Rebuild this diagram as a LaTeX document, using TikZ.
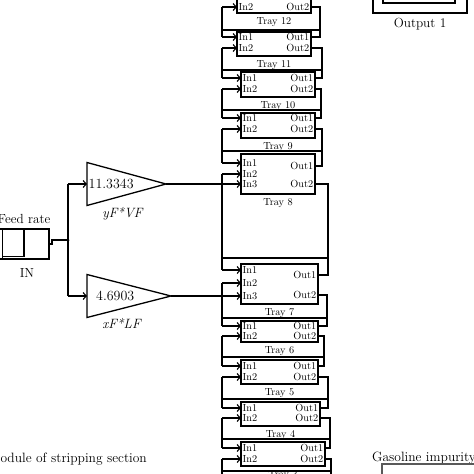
\documentclass[tikz,border=0pt]{standalone}
\usetikzlibrary{arrows.meta}
\newcommand\mktray[8]{%
  \node[traybox,minimum width={(#3-#2)*1pt},minimum height={(#5-#4)*1pt}] (#1) at ({(#2+#3)/2},{(#4+#5)/2}) {};
  \coordinate (#1-i1) at (#2,#6);
  \coordinate (#1-i2) at (#2,#7);
  \coordinate (#1-o1) at (#3,#6);
  \coordinate (#1-o2) at (#3,#7);
  \node[port,anchor=west] (#1-l1) at ([xshift=1.5pt]#1-i1) {In1};
  \node[port,anchor=west] (#1-l2) at ([xshift=1.5pt]#1-i2) {In2};
  \node[port,anchor=east] (#1-r1) at ([xshift=-1.5pt]#1-o1) {Out1};
  \node[port,anchor=east] (#1-r2) at ([xshift=-1.5pt]#1-o2) {Out2};
  \node[tlab] (#1-lab) at ({(#2+#3)/2},{#5+11}) {#8};
}
\newcommand\mkgap[4]{%
  \coordinate (rr) at (#4,0);
  \coordinate (hy) at (0,#3);
  \draw[arr] (rail |- #1-i2) -- (#1-i2);
  \draw[arr] (rail |- #2-i1) -- (#2-i1);
  \draw[wire] (rail |- #1-i2) -- (rail |- #2-i1);
  \draw[wire] (#1-o2) -- (rr |- #1-o2) -- (rr |- #2-o1) -- (#2-o1);
  \draw[wire] (rail |- hy) -- (rr |- hy);
}
\begin{document}
\begin{tikzpicture}[x=1pt,y=-1pt,
  wire/.style={line width=1.35pt},
  arr/.style={wire,-{Straight Barb[length=3.2pt,width=7pt,line width=1.1pt]}},
  traybox/.style={draw,line width=1.35pt,inner sep=0pt,outer sep=0pt},
  boxline/.style={line width=1.3pt},
  port/.style={inner sep=0pt,font=\fontsize{10.3}{12}\selectfont},
  tlab/.style={inner sep=0pt,anchor=base,font=\fontsize{10.3}{12}\selectfont},
  big/.style={inner sep=0pt,font=\fontsize{13.5}{16}\selectfont}]
\useasboundingbox (0,0) rectangle (474,474);
\clip (0,0) rectangle (474,474);
\coordinate (rail) at (222,0);

% trays
\mktray{t12}{237}{311}{-20}{13}{-9}{7}{Tray 12}
\mktray{t11}{237}{311}{32}{56}{37}{48}{Tray 11}
\mktray{t10}{241}{315}{72}{97}{78}{89}{Tray 10}
\mktray{t9}{241}{315}{113}{138}{118}{129}{Tray 9}
\mktray{t6}{241}{318}{321}{342}{326}{336}{Tray 6}
\mktray{t5}{241}{318}{360}{384}{366}{377}{Tray 5}
\mktray{t4}{241}{320}{402}{426}{408}{418}{Tray 4}
\mktray{t3}{241}{325}{442}{466}{448}{459}{Tray 3}

% tray 8
\node[traybox,minimum width=74pt,minimum height=40pt] (t8) at (278,174) {};
\coordinate (t8-i1) at (241,163);
\coordinate (t8-i2) at (241,174);
\coordinate (t8-i3) at (241,184);
\coordinate (t8-o1) at (315,166);
\coordinate (t8-o2) at (315,184);
\node[port,anchor=west] (t8-l1) at ([xshift=1.5pt]t8-i1) {In1};
\node[port,anchor=west] (t8-l2) at ([xshift=1.5pt]t8-i2) {In2};
\node[port,anchor=west] (t8-l3) at ([xshift=1.5pt]t8-i3) {In3};
\node[port,anchor=east] (t8-r1) at ([xshift=-1.5pt]t8-o1) {Out1};
\node[port,anchor=east] (t8-r2) at ([xshift=-1.5pt]t8-o2) {Out2};
\node[tlab] (t8-lab) at (278,205) {Tray 8};

% tray 7
\node[traybox,minimum width=77pt,minimum height=40pt] (t7) at (279.5,284) {};
\coordinate (t7-i1) at (241,270);
\coordinate (t7-i2) at (241,283);
\coordinate (t7-i3) at (241,296);
\coordinate (t7-o1) at (318,275);
\coordinate (t7-o2) at (318,295);
\node[port,anchor=west] (t7-l1) at ([xshift=1.5pt]t7-i1) {In1};
\node[port,anchor=west] (t7-l2) at ([xshift=1.5pt]t7-i2) {In2};
\node[port,anchor=west] (t7-l3) at ([xshift=1.5pt]t7-i3) {In3};
\node[port,anchor=east] (t7-r1) at ([xshift=-1.5pt]t7-o1) {Out1};
\node[port,anchor=east] (t7-r2) at ([xshift=-1.5pt]t7-o2) {Out2};
\node[tlab] (t7-lab) at (279.5,315) {Tray 7};

% loops between trays
\mkgap{t12}{t11}{30}{320}
\mkgap{t11}{t10}{70}{322}
\mkgap{t10}{t9}{110}{321}
\mkgap{t9}{t8}{151}{322}
\mkgap{t8}{t7}{258}{328}
\mkgap{t7}{t6}{318}{327}
\mkgap{t6}{t5}{357}{324}
\mkgap{t5}{t4}{399}{328}
\mkgap{t4}{t3}{439}{330}
% below tray 3
\coordinate (bl) at (222,480);
\coordinate (br) at (331,480);
\draw[arr] (rail |- t3-i2) -- (t3-i2);
\draw[wire] (rail |- t3-i2) -- (bl);
\draw[wire] (t3-o2) -| (br);
\draw[wire] (222,471) -- (331,471);

% feed block
\node[draw,line width=1.3pt,inner sep=0pt,minimum width=51pt,minimum height=30pt] (feed) at (23.5,244) {};
\draw[line width=1.2pt] (2.5,229) rectangle (24,256.5);
\draw[line width=1.9pt] (2.5,229.5) -- (2.5,258.5);
\node[big,font=\fontsize{13.2}{15}\selectfont] (feedlab) at (24,219) {Feed rate};
\node[big,font=\fontsize{13.2}{15}\selectfont] (inlab) at (27,273) {IN};
\coordinate (jn) at (68,240);
\draw[wire] (feed.east |- 0,244) -- (52,244) -- (52,240) -- (jn);
\fill (jn) circle (1.5pt);

% gains
\draw[boxline] (87,162.5) -- (87,205.5) -- (166,184) -- cycle;
\draw[boxline] (87,274.5) -- (87,317.5) -- (171,296) -- cycle;
\coordinate (g1in) at (87,184);
\coordinate (g1out) at (166,184);
\coordinate (g2in) at (87,296);
\coordinate (g2out) at (171,296);
\node[inner sep=0pt,anchor=west,font=\fontsize{14}{16}\selectfont] (g1val) at (88.5,184) {11.3343};
\node[inner sep=0pt,anchor=west,font=\fontsize{14}{16}\selectfont] (g2val) at (96,296) {4.6903};
\node[big,anchor=base] (g1lab) at (123,217) {\textit{yF*VF}};
\node[big,anchor=base] (g2lab) at (122,328) {\textit{xF*LF}};
\draw[wire] (jn |- g1in) -- (jn |- g2in);
\draw[arr] (jn |- g1in) -- (g1in);
\draw[arr] (jn |- g2in) -- (g2in);
\draw[arr] (g1out) -- (t8-i3);
\draw[arr] (g2out) -- (t7-i3);

% output 1
\node[draw,line width=1.3pt,inner sep=0pt,minimum width=94pt,minimum height=43pt] (out1) at (420,-8.5) {};
\draw[line width=1.3pt] (383,-20) rectangle (455,3);
\node[big,anchor=base,font=\fontsize{13.2}{15}\selectfont] (out1lab) at (420,27) {Output 1};

% bottom texts
\node[big,anchor=base east] (strip) at (147,462) {Module of stripping section};
\node[big,anchor=base west] (gaso) at (372,461) {Gasoline impurity};
\node[draw=black!65,line width=2pt,minimum width=140pt,minimum height=60pt] (gbox) at (452,494) {};
\end{tikzpicture}
\end{document}
